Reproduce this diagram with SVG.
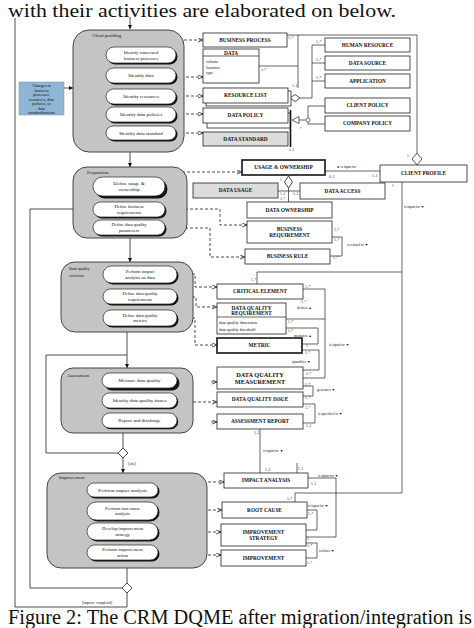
<svg xmlns="http://www.w3.org/2000/svg" width="474" height="628" viewBox="0 0 474 628">
<defs>
<marker id="fa" viewBox="0 0 6 6" refX="6" refY="3" markerWidth="4" markerHeight="4" orient="auto" markerUnits="userSpaceOnUse"><path d="M0,0 L6,3 L0,6 z" fill="#111"/></marker>
<marker id="oa" viewBox="0 0 6 6" refX="6" refY="3" markerWidth="5" markerHeight="5" orient="auto" markerUnits="userSpaceOnUse"><path d="M0,0.5 L6,3 L0,5.5" fill="none" stroke="#111" stroke-width="0.8"/></marker>
<style>
.act{fill:#c4c4c4;stroke:#333;stroke-width:0.9}
.pill{fill:#fff;stroke:#222;stroke-width:0.7}
.psh{fill:#111}
.ent{fill:#fff;stroke:#222;stroke-width:0.8}
.gr{fill:#dcdcdc}
.bold{stroke-width:1.7}
.t{font-family:"Liberation Serif","Times New Roman",serif;fill:#111}
.el{font-size:5.3px;font-weight:bold;text-anchor:middle}
.big{font-size:6.3px}
.pt{font-size:5px;text-anchor:middle}
.p2{font-size:4.6px}
.al{font-size:4.7px}
.at{font-size:4.2px}
.ml{font-size:3.6px}
.c{fill:none;stroke:#222;stroke-width:0.7}
.f{fill:none;stroke:#222;stroke-width:0.8}
.d{fill:none;stroke:#222;stroke-width:0.8;stroke-dasharray:3 2}
.dia{fill:#fff;stroke:#222;stroke-width:0.8}
</style>
</defs>
<rect width="474" height="628" fill="#fff"/>
<text class="t" x="8" y="16.5" font-size="18" textLength="388" lengthAdjust="spacingAndGlyphs">with their activities are elaborated on below.</text>
<text class="t" x="8" y="623.5" font-size="20" textLength="464" lengthAdjust="spacingAndGlyphs">Figure 2: The CRM DQME after migration/integration is</text>

<g id="connectors">
<path class="f" d="M15 18 V607 H127 V593"/>
<path class="f" d="M130 17 V29" marker-end="url(#fa)"/>
<path class="f" d="M64 88 H73" marker-end="url(#fa)"/>
<path class="f" d="M130 152 V167" marker-end="url(#fa)"/>
<path class="f" d="M130 238 V262" marker-end="url(#fa)"/>
<path class="f" d="M127 332 V368" marker-end="url(#fa)"/>
<path class="f" d="M123 433 V448"/>
<path class="f" d="M118 453 H46 V355 H127"/>
<path class="f" d="M123 458 V473" marker-end="url(#fa)"/>
<path class="f" d="M127 568 V583"/>
<path class="f" d="M122 588 H30 V209 H93" marker-end="url(#fa)"/>
<path class="f" d="M106 60 H95 V73 H106" marker-end="url(#fa)"/>
<path class="f" d="M106 83 H95 V95 H106" marker-end="url(#fa)"/>
<path class="f" d="M106 104 H95 V117 H106" marker-end="url(#fa)"/>
<path class="f" d="M106 120 H95 V131 H106" marker-end="url(#fa)"/>
<path class="f" d="M93 214 H83 V228 H93" marker-end="url(#fa)"/>
<path class="f" d="M90 276 H103" marker-end="url(#fa)"/>
<path class="f" d="M96 293 H103" marker-end="url(#fa)"/>
<path class="f" d="M103 301 H93 V314 H103" marker-end="url(#fa)"/>
<path class="f" d="M87 490 H72 V507 H87" marker-end="url(#fa)"/>
<path class="f" d="M87 517 H72 V530 H87" marker-end="url(#fa)"/>
<path class="f" d="M87 536 H72 V550 H87" marker-end="url(#fa)"/>
<path class="d" d="M184 40 H203" marker-end="url(#oa)"/>
<path class="d" d="M176 77 H203" marker-end="url(#oa)"/>
<path class="d" d="M176 96 H203" marker-end="url(#oa)"/>
<path class="d" d="M176 114 H203" marker-end="url(#oa)"/>
<path class="d" d="M176 133 H203" marker-end="url(#oa)"/>
<path class="d" d="M166 186 H168 V172 H242" marker-end="url(#oa)"/>
<path class="d" d="M165 209 H220 V225 H247" marker-end="url(#oa)"/>
<path class="d" d="M165 228 H210 V257 H245" marker-end="url(#oa)"/>
<path class="d" d="M177 274 H195 V287 H217" marker-end="url(#oa)"/>
<path class="d" d="M177 297 H196 V307 H217" marker-end="url(#oa)"/>
<path class="d" d="M177 318 H195 V345 H217" marker-end="url(#oa)"/>
<path class="c" d="M211 382 H217" marker-end="url(#oa)"/>
<path class="d" d="M193 402 H217" marker-end="url(#oa)"/>
<path class="c" d="M211 422 H217" marker-end="url(#oa)"/>
<path class="d" d="M158 482 H224" marker-end="url(#oa)"/>
<path class="d" d="M158 510 H222" marker-end="url(#oa)"/>
<path class="d" d="M158 532 H221" marker-end="url(#oa)"/>
<path class="d" d="M158 555 H221" marker-end="url(#oa)"/>
<path class="c" d="M287 35 H417 V153"/>
<path class="c" d="M298 35 V88"/>
<path class="c" d="M259 66 H298"/>
<path class="c" d="M300 98 H312 V45 H325 M312 63 H325 M312 81 H325"/>
<path class="c" d="M299 120 H306 M308 106 H325 M308 106 V118 M308 122 V124 H325"/>
<path d="M290.5 110 V147" fill="none" stroke="#111" stroke-width="1.6"/>
<path class="c" d="M325 171 H380"/>
<path class="c" d="M288.5 188 V202 M278 191 H300"/>
<path class="c" d="M402 182 V493 H295 V502 M402 272 H257 V284"/>
<path class="c" d="M332 237 H342 V256 H330"/>
<path class="c" d="M303 289 H325 V378 H303 M286 319 H325"/>
<path class="c" d="M286 328 H318 V344 H302"/>
<path class="c" d="M302 350 H319 V370 H303"/>
<path class="c" d="M303 386 H313 V396 H303"/>
<path class="c" d="M303 404 H315 V423 H303"/>
<path class="c" d="M260 429 V473 M297 463 V473"/>
<path class="c" d="M308 478 H336 V537 H306"/>
<path class="c" d="M307 510 H317 V530 H306"/>
<path class="c" d="M306 543 H317 V558 H306"/>
<polygon class="dia" points="417,153 422,159 417,165 412,159"/>
<polygon class="dia" points="290,98 295,94.5 300,98 295,101.5"/>
<polygon points="292,120 299,116.5 299,123.5" fill="#fff" stroke="#222" stroke-width="0.7"/>
<circle cx="308" cy="120" r="2" fill="#fff" stroke="#222" stroke-width="0.6"/>
<polygon class="dia" points="288.5,176 292.5,182 288.5,188 284.5,182"/>
<polygon class="dia" points="123,448 128,453 123,458 118,453"/>
<polygon class="dia" points="127,583 132,588 127,593 122,588"/>
<g class="t ml">
<text x="288" y="39">1..*</text>
<text x="261" y="71">1..*</text>
<text x="292" y="87">1..1</text>
<text x="316" y="43">1..*</text>
<text x="316" y="61">1..*</text>
<text x="316" y="79">1..*</text>
<text x="300" y="130">*</text>
<text x="289" y="151">1..1</text>
<text x="407" y="157">1</text>
<text x="336" y="168">◄ is input for</text>
<text x="329" y="178">0..1</text>
<text x="372" y="177">1..1</text>
<text x="392" y="187">1</text>
<text x="280" y="181">1</text>
<text x="280" y="195">1..1</text>
<text x="293" y="195">1..1</text>
<text x="280" y="200">1..*</text>
<text x="404" y="208">is input for ▼</text>
<text x="334" y="231">1..*</text>
<text x="334" y="241">1..*</text>
<text x="347" y="246">is related to ▼</text>
<text x="333" y="259">1..*</text>
<text x="251" y="281">1..*</text>
<text x="305" y="288">1..*</text>
<text x="301" y="303">1..*</text>
<text x="297" y="309">defines ▲</text>
<text x="288" y="323">1..*</text>
<text x="288" y="332">1..*</text>
<text x="294" y="337">measures ▲</text>
<text x="306" y="347">1</text>
<text x="329" y="346">is input for ▼</text>
<text x="305" y="354">1..*</text>
<text x="292" y="363">quantifies ▼</text>
<text x="306" y="375">1..*</text>
<text x="305" y="386">1..*</text>
<text x="317" y="391">generates ▼</text>
<text x="305" y="399">1..*</text>
<text x="305" y="409">1..*</text>
<text x="318" y="415">is specified in ▼</text>
<text x="306" y="427">1..1</text>
<text x="254" y="434">1..1</text>
<text x="263" y="452">is input for ▼</text>
<text x="265" y="471">1..1</text>
<text x="298" y="470">1..1</text>
<text x="318" y="477">is input for ▼</text>
<text x="311" y="485">1..1</text>
<text x="287" y="500">1..*</text>
<text x="308" y="507">is input for ▼</text>
<text x="308" y="515">1..*</text>
<text x="307" y="540">1..</text>
<text x="307" y="547">1..*</text>
<text x="319" y="552">realizes ▼</text>
<text x="307" y="564">1..*</text>
<text x="128" y="465">[else]</text>
<text x="82" y="604">[improve completed]</text>
</g>
</g>

<g id="changes">
<rect x="19" y="82" width="45" height="33" fill="#8fb6d6" stroke="#6a94b8" stroke-width="0.5"/>
<g class="t at" text-anchor="middle">
<text x="41.5" y="87">Changes in</text>
<text x="41.5" y="91.6">business</text>
<text x="41.5" y="96.2">processes,</text>
<text x="41.5" y="100.8">resources, data</text>
<text x="41.5" y="105.4">policies, or</text>
<text x="41.5" y="110">data</text>
<text x="41.5" y="114.3">standardisations</text>
</g>
</g>

<g id="client-profiling">
<rect class="act" x="73" y="30" width="111" height="122" rx="16"/>
<text class="t al" x="92" y="37">Client profiling</text>
<rect class="psh" x="107.5" y="48.5" width="70" height="16" rx="8"/><rect class="pill" x="106" y="47" width="70" height="16" rx="8"/>
<text class="t pt p2" x="141" y="53.8">Identify concerned</text><text class="t pt p2" x="141" y="59.6">business processes</text>
<rect class="psh" x="107.5" y="69.5" width="70" height="15" rx="7.5"/><rect class="pill" x="106" y="68" width="70" height="15" rx="7.5"/>
<text class="t pt" x="141" y="77.3">Identify data</text>
<rect class="psh" x="107.5" y="90.5" width="70" height="15" rx="7.5"/><rect class="pill" x="106" y="89" width="70" height="15" rx="7.5"/>
<text class="t pt" x="141" y="98.3">Identify resources</text>
<rect class="psh" x="107.5" y="108.5" width="70" height="15" rx="7.5"/><rect class="pill" x="106" y="107" width="70" height="15" rx="7.5"/>
<text class="t pt" x="141" y="116.3">Identify data policies</text>
<rect class="psh" x="107.5" y="127.5" width="70" height="14" rx="7"/><rect class="pill" x="106" y="126" width="70" height="14" rx="7"/>
<text class="t pt" x="141" y="134.8">Identify data standard</text>
</g>

<g id="preparation">
<rect class="act" x="73" y="167" width="114" height="71" rx="14"/>
<text class="t al" x="87" y="174">Preparation</text>
<rect class="psh" x="95.5" y="179.5" width="72" height="19" rx="9.5"/><rect class="pill" x="93" y="177" width="72" height="19" rx="9.5"/>
<text class="t pt" x="129" y="184.8">Define usage &amp;</text><text class="t pt" x="129" y="190.8">ownership</text>
<rect class="psh" x="94.5" y="203.5" width="72" height="15" rx="7.5"/><rect class="pill" x="93" y="202" width="72" height="15" rx="7.5"/>
<text class="t pt p2" x="129" y="208.3">Define business</text><text class="t pt p2" x="129" y="213.8">requirements</text>
<rect class="psh" x="94.5" y="221.5" width="72" height="15" rx="7.5"/><rect class="pill" x="93" y="220" width="72" height="15" rx="7.5"/>
<text class="t pt p2" x="129" y="226.3">Define data quality</text><text class="t pt p2" x="129" y="231.8">parameters</text>
</g>

<g id="dq-selection">
<rect class="act" x="61" y="262" width="132" height="70" rx="14"/>
<text class="t at" x="69" y="270">Data quality</text><text class="t at" x="69" y="277">selection</text>
<rect class="psh" x="104.5" y="267.5" width="74" height="17" rx="8.5"/><rect class="pill" x="103" y="266" width="74" height="17" rx="8.5"/>
<text class="t pt p2" x="140" y="273">Perform impact</text><text class="t pt p2" x="140" y="278.8">analysis on data</text>
<rect class="psh" x="104.5" y="290.5" width="74" height="15" rx="7.5"/><rect class="pill" x="103" y="289" width="74" height="15" rx="7.5"/>
<text class="t pt p2" x="140" y="295.3">Define data quality</text><text class="t pt p2" x="140" y="300.8">requirements</text>
<rect class="psh" x="104.5" y="311.5" width="74" height="16" rx="8"/><rect class="pill" x="103" y="310" width="74" height="16" rx="8"/>
<text class="t pt p2" x="140" y="316.6">Define data quality</text><text class="t pt p2" x="140" y="322.2">metrics</text>
</g>

<g id="assessment">
<rect class="act" x="61" y="368" width="132" height="65" rx="12"/>
<text class="t al" x="67" y="377">Assessment</text>
<rect class="psh" x="104.5" y="375.5" width="75" height="15" rx="7.5"/><rect class="pill" x="102" y="373" width="75" height="15" rx="7.5"/>
<text class="t pt" x="139.5" y="382.3">Measure data quality</text>
<rect class="psh" x="103.2" y="394.2" width="75" height="15" rx="7.5"/><rect class="pill" x="102" y="393" width="75" height="15" rx="7.5"/>
<text class="t pt" x="139.5" y="402.3">Identify data quality issues</text>
<rect class="psh" x="103.2" y="414.2" width="75" height="15" rx="7.5"/><rect class="pill" x="102" y="413" width="75" height="15" rx="7.5"/>
<text class="t pt" x="139.5" y="422.3">Report and discharge</text>
</g>

<g id="improvement">
<rect class="act" x="47" y="473" width="160" height="95" rx="14"/>
<text class="t al" x="59" y="479">Improvement</text>
<rect class="psh" x="88.5" y="484.5" width="71" height="14" rx="7"/><rect class="pill" x="87" y="483" width="71" height="14" rx="7"/>
<text class="t pt" x="122.5" y="491.8">Perform impact analysis</text>
<rect class="psh" x="88.5" y="503.5" width="71" height="18" rx="9"/><rect class="pill" x="87" y="502" width="71" height="18" rx="9"/>
<text class="t pt p2" x="122.5" y="509.5">Perform root cause</text><text class="t pt p2" x="122.5" y="515.3">analysis</text>
<rect class="psh" x="88.5" y="524.5" width="71" height="17" rx="8.5"/><rect class="pill" x="87" y="523" width="71" height="17" rx="8.5"/>
<text class="t pt p2" x="122.5" y="530">Develop improvement</text><text class="t pt p2" x="122.5" y="535.8">strategy</text>
<rect class="psh" x="88.5" y="546.5" width="71" height="15" rx="7.5"/><rect class="pill" x="87" y="545" width="71" height="15" rx="7.5"/>
<text class="t pt p2" x="122.5" y="551">Perform improvement</text><text class="t pt p2" x="122.5" y="556.6">action</text>
</g>

<g id="business-process"><rect class="ent" x="203" y="33" width="84" height="14"/><text class="t el" x="245" y="41.9">BUSINESS PROCESS</text></g>
<g id="data"><rect class="ent" x="203" y="49" width="56" height="34"/><path class="c" d="M203 56 H259"/><text class="t el" x="231" y="54.5" font-size="4.3px">DATA</text>
<text class="t at" x="206" y="63">volume</text><text class="t at" x="206" y="68.5">location</text><text class="t at" x="206" y="74">type</text></g>
<g id="resource-list"><rect class="ent" x="206" y="91" width="85" height="15"/><rect class="ent" x="203" y="88" width="85" height="15"/><text class="t el" x="245.5" y="97.4">RESOURCE LIST</text></g>
<g id="data-policy"><rect class="ent" x="207" y="113" width="83" height="15"/><rect class="ent" x="203" y="108" width="85" height="15"/><text class="t el" x="245.5" y="117.4">DATA POLICY</text></g>
<g id="data-standard"><rect class="ent gr" x="203" y="132" width="85" height="14"/><text class="t el" x="245.5" y="140.9">DATA STANDARD</text></g>
<g id="human-resource"><rect class="ent" x="325" y="38" width="85" height="14"/><text class="t el" x="367.5" y="46.9">HUMAN RESOURCE</text></g>
<g id="data-source"><rect class="ent" x="325" y="56" width="85" height="14"/><text class="t el" x="367.5" y="64.9">DATA SOURCE</text></g>
<g id="application"><rect class="ent" x="325" y="74" width="85" height="14"/><text class="t el" x="367.5" y="82.9">APPLICATION</text></g>
<g id="client-policy"><rect class="ent" x="325" y="98" width="85" height="15"/><text class="t el" x="367.5" y="107.4">CLIENT POLICY</text></g>
<g id="company-policy"><rect class="ent" x="325" y="116" width="85" height="15"/><text class="t el" x="367.5" y="125.4">COMPANY POLICY</text></g>
<g id="usage-ownership"><rect class="ent bold" x="242" y="160" width="83" height="15"/><text class="t el" x="283.5" y="169.4">USAGE &amp; OWNERSHIP</text></g>
<g id="client-profile"><rect class="ent" x="380" y="165" width="87" height="17"/><text class="t el" x="423.5" y="175.4">CLIENT PROFILE</text></g>
<g id="data-usage"><rect class="ent gr" x="193" y="183" width="85" height="15"/><text class="t el" x="235.5" y="192.4">DATA USAGE</text></g>
<g id="data-access"><rect class="ent" x="300" y="183" width="85" height="16"/><text class="t el" x="342.5" y="192.9">DATA ACCESS</text></g>
<g id="data-ownership"><rect class="ent" x="247" y="202" width="85" height="16"/><text class="t el" x="289.5" y="211.9">DATA OWNERSHIP</text></g>
<g id="business-requirement"><rect class="ent" x="247" y="221" width="85" height="22"/><text class="t el" x="289.5" y="230.5">BUSINESS</text><text class="t el" x="289.5" y="236.8">REQUIREMENT</text></g>
<g id="business-rule"><rect class="ent" x="245" y="249" width="85" height="15"/><text class="t el" x="287.5" y="258.4">BUSINESS RULE</text></g>
<g id="critical-element"><rect class="ent" x="217" y="284" width="86" height="15"/><text class="t el" x="260" y="293.4">CRITICAL ELEMENT</text></g>
<g id="dq-requirement"><rect class="ent" x="217" y="303" width="69" height="31"/><path class="c" d="M217 317 H286"/><text class="t el" x="251.5" y="309.5" font-size="4.5px">DATA QUALITY</text><text class="t el" x="251.5" y="314.5" font-size="4.5px">REQUIREMENT</text>
<text class="t at" x="219" y="324" font-size="3.9px">data quality dimension</text><text class="t at" x="219" y="330.5" font-size="3.9px">data quality threshold</text></g>
<g id="metric"><rect class="ent bold" x="217" y="338" width="85" height="15"/><text class="t el" x="259.5" y="347.4">METRIC</text></g>
<g id="dq-measurement"><rect class="ent" x="217" y="367" width="86" height="22"/><text class="t el big" x="260" y="376.5">DATA QUALITY</text><text class="t el big" x="260" y="383.5">MEASUREMENT</text></g>
<g id="dq-issue"><rect class="ent" x="217" y="392" width="86" height="15"/><text class="t el" x="260" y="401.4">DATA QUALITY ISSUE</text></g>
<g id="assessment-report"><rect class="ent" x="217" y="414" width="86" height="15"/><text class="t el" x="260" y="423.4">ASSESSMENT REPORT</text></g>
<g id="impact-analysis"><rect class="ent" x="224" y="473" width="84" height="15"/><text class="t el" x="266" y="482.4">IMPACT ANALYSIS</text></g>
<g id="root-cause"><rect class="ent" x="222" y="502" width="85" height="16"/><text class="t el" x="264.5" y="511.9">ROOT CAUSE</text></g>
<g id="improvement-strategy"><rect class="ent" x="221" y="524" width="85" height="22"/><text class="t el" x="263.5" y="533.5">IMPROVEMENT</text><text class="t el" x="263.5" y="540">STRATEGY</text></g>
<g id="improvement-entity"><rect class="ent" x="221" y="550" width="85" height="16"/><text class="t el" x="263.5" y="559.9">IMPROVEMENT</text></g>
</svg>
